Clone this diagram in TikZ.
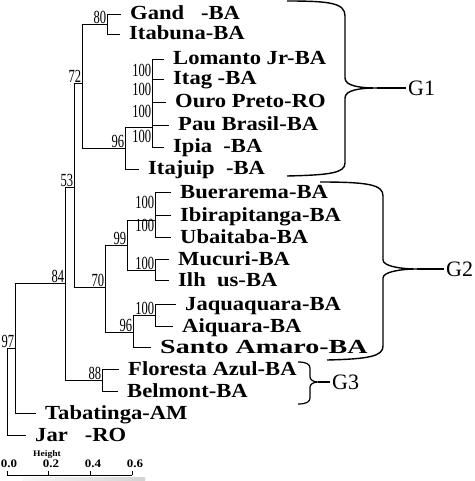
\documentclass[tikz,border=0pt]{standalone}
\usepackage{fontspec}
\usepackage{graphicx}
\setmainfont{Liberation Serif}
\newfontfamily\leaffont{Liberation Serif}[FakeStretch=1.13]
\newfontfamily\bootfont{Liberation Serif}[FakeStretch=0.68]
\begin{document}
\begin{tikzpicture}[x=1pt,y=-1pt,
  tree/.style={line width=0.9pt,black},
  bracel/.style={line width=1.4pt,black},
  leaf/.style={anchor=west,inner xsep=9pt,inner ysep=0pt,text height=15pt,text depth=3pt,
    font=\leaffont\bfseries\fontsize{20}{24}\selectfont},
  boot/.style={anchor=south east,inner sep=0.6pt,font=\bootfont\fontsize{18.5}{18}\selectfont},
  grp/.style={anchor=west,inner sep=2pt,font=\fontsize{22}{24}\selectfont},
  tick/.style={inner sep=0pt,font=\leaffont\bfseries\fontsize{11.5}{12}\selectfont}]
\useasboundingbox (0,0) rectangle (474,481);
\fill[white] (0,0) rectangle (474,481);

% leaves
\node[leaf] (Gand) at (121,14) {Gand\ \ \ -BA};
\node[leaf] (Itab) at (120,34) {Itabuna-BA};
\node[leaf] (Lom)  at (164,59) {Lomanto Jr-BA};
\node[leaf] (Itag) at (164,79) {Itag -BA};
\node[leaf] (Ouro) at (166,102) {Ouro Preto-RO};
\node[leaf] (Pau)  at (169,125) {Pau Brasil-BA};
\node[leaf] (Ipia) at (164,147) {Ipia\ \ -BA};
\node[leaf] (Itaj) at (139,169) {Itajuip\ \ -BA};
\node[leaf] (Buer) at (171,192) {Buerarema-BA};
\node[leaf] (Ibir) at (171,215) {Ibirapitanga-BA};
\node[leaf] (Ubai) at (171,237) {Ubaitaba-BA};
\node[leaf] (Muc)  at (169,259) {Mucuri-BA};
\node[leaf] (Ilh)  at (169,280) {Ilh\ \ us-BA};
\node[leaf] (Jaq)  at (176,304) {Jaquaquara-BA};
\node[leaf] (Aiq)  at (173,326) {Aiquara-BA};
\node[leaf] (Santo) at (151,347) {\scalebox{1.24}[1]{Santo Amaro-BA}};
\node[leaf] (Flor) at (119,369) {Floresta Azul-BA};
\node[leaf] (Bel)  at (118,391) {Belmont-BA};
\node[leaf] (Taba) at (36,413) {Tabatinga-AM};
\node[leaf] (Jar)  at (26,435) {Jar\ \ \ -RO};

% internal nodes
\coordinate (c80) at (107,24);
\coordinate (c72) at (82,83);
\coordinate (c96a) at (125,148);
\coordinate (cLom) at (152,127);
\coordinate (c53) at (74,187);
\coordinate (c70) at (105,287);
\coordinate (c99) at (127,245);
\coordinate (cBu) at (155,220);
\coordinate (cMu) at (155,270);
\coordinate (c96b) at (133,332);
\coordinate (cJa) at (155,315);
\coordinate (c84) at (65,283);
\coordinate (c88) at (102,380);
\coordinate (c97) at (15,348);
\coordinate (croot) at (7,435);

% branches
\draw[tree] (c80) |- (Gand.west);
\draw[tree] (c80) |- (Itab.west);
\draw[tree] (c72) |- (c80);
\draw[tree] (c72) |- (c96a);
\draw[tree] (c96a) |- (cLom);
\draw[tree] (c96a) |- (Itaj.west);
\foreach \l in {Lom,Itag,Ouro,Pau,Ipia} \draw[tree] (cLom) |- (\l.west);
\draw[tree] (c53) |- (c72);
\draw[tree] (c53) |- (c70);
\draw[tree] (c70) |- (c99);
\draw[tree] (c70) |- (c96b);
\draw[tree] (c99) |- (cBu);
\draw[tree] (c99) |- (cMu);
\foreach \l in {Buer,Ibir,Ubai} \draw[tree] (cBu) |- (\l.west);
\foreach \l in {Muc,Ilh} \draw[tree] (cMu) |- (\l.west);
\draw[tree] (c96b) |- (cJa);
\draw[tree] (c96b) |- (Santo.west);
\foreach \l in {Jaq,Aiq} \draw[tree] (cJa) |- (\l.west);
\draw[tree] (c84) |- (c53);
\draw[tree] (c84) |- (c88);
\draw[tree] (c88) |- (Flor.west);
\draw[tree] (c88) |- (Bel.west);
\draw[tree] (c97) |- (c84);
\draw[tree] (c97) |- (Taba.west);
\draw[tree] (croot) |- (c97);
\draw[tree] (croot) -- (Jar.west);

% bootstrap values
\node[boot] (b80) at (c80) {80};
\node[boot] (b72) at (c72) {72};
\node[boot] (b96a) at (c96a) {96};
\node[boot] (bL1) at (152,77) {100};
\node[boot] (bL2) at (152,96) {100};
\node[boot] (bL3) at (152,118) {100};
\node[boot] (bL4) at (152,143) {100};
\node[boot] (b53) at (c53) {53};
\node[boot] (b70) at (c70) {70};
\node[boot] (b99) at (c99) {99};
\node[boot] (bB1) at (155,209) {100};
\node[boot] (bB2) at (155,232) {100};
\node[boot] (bM) at (cMu) {100};
\node[boot] (b96b) at (c96b) {96};
\node[boot] (bJ) at (cJa) {100};
\node[boot] (b84) at (c84) {84};
\node[boot] (b88) at (c88) {88};
\node[boot] (b97) at (c97) {97};

% group braces
\node[grp] (G1) at (406,88) {G1};
\node[grp] (G2) at (444,269) {G2};
\node[grp] (G3) at (330,382) {G3};
\coordinate (k1) at (377,88);
\coordinate (k2) at (417,269);
\coordinate (k3) at (318,382);
\draw[bracel] (287,1) .. controls (330,1) and (345,3) .. (345,16) -- (345,78)
  .. controls (345,86) and (360,88) .. (k1)
  .. controls (360,88) and (345,90) .. (345,98) -- (345,163)
  .. controls (345,173) and (330,175) .. (287,176);
\draw[bracel] (k1) -- (G1.west);
\draw[bracel] (320,182) .. controls (370,182) and (383,185) .. (383,196) -- (383,260)
  .. controls (383,266) and (400,269) .. (k2)
  .. controls (400,269) and (383,272) .. (383,278) -- (383,346)
  .. controls (383,356) and (370,359) .. (327,360);
\draw[bracel] (k2) -- (G2.west);
\draw[line width=1.2pt] (298,362) .. controls (306,362) and (310,364) .. (310,368) -- (310,377)
  .. controls (310,380) and (314,382) .. (k3)
  .. controls (314,382) and (310,384) .. (310,387) -- (310,398)
  .. controls (310,402) and (306,404) .. (298,404);
\draw[line width=1.2pt] (k3) -- (G3.west);

% height axis
\shade[left color=gray!5,right color=gray!35] (22,477) rectangle (145,481);
\draw[line width=0.8pt] (7,475) -- (132,475);
\foreach \x in {7,48,90,132} \draw[line width=0.8pt] (\x,475) -- (\x,471);
\node[tick] (t0) at (9,464) {0.0};
\node[tick] (t2) at (51,464) {0.2};
\node[tick] (t4) at (93,464) {0.4};
\node[tick] (t6) at (135,464) {0.6};
\node[inner sep=0pt,font=\leaffont\bfseries\fontsize{8.5}{9}\selectfont] (ht) at (47,454) {Height};
\end{tikzpicture}
\end{document}
